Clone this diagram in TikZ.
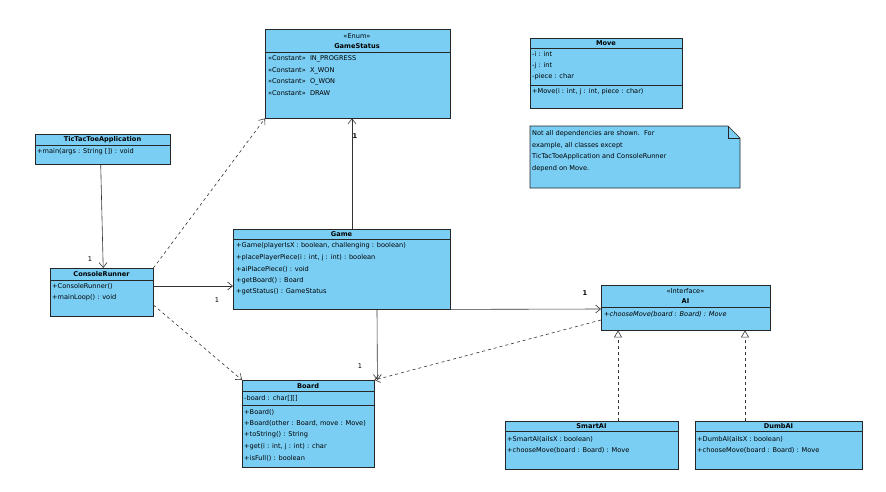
\documentclass[tikz,border=0pt]{standalone}
\usepackage{fontspec}
\setmainfont{DejaVu Sans}
\usetikzlibrary{arrows.meta,calc}
\definecolor{cfill}{RGB}{122,206,244}
\tikzset{
  x=1pt,y=-1pt,
  txt/.style={anchor=west,inner sep=0pt,font=\fontsize{6.6}{8}\selectfont},
  ttl/.style={inner sep=0pt,font=\fontsize{6.6}{8}\selectfont\bfseries},
  box/.style={draw=black!85,fill=cfill,line width=0.7pt},
  assoc/.style={draw=black!80,line width=0.6pt,-{Straight Barb[length=5pt,width=8pt]}},
  dep/.style={assoc,dashed},
  real/.style={draw=black!80,line width=0.6pt,dashed,-{Triangle[open,length=7pt,width=8pt]}},
  mult/.style={inner sep=0pt,font=\fontsize{6.6}{8}\selectfont},
}
\newcommand{\ubox}[5]{\path[box] (#2,#3) rectangle (#4,#5);
  \node[inner sep=0pt,minimum width={#4-#2},minimum height={#5-#3},anchor=north west] (#1) at (#2,#3) {};}
\begin{document}
\begin{tikzpicture}
\useasboundingbox[fill=white] (0,0) rectangle (886,491);
% GameStatus
\ubox{gs}{265}{29}{450}{118}
\draw[black!85,line width=0.6pt] (265,52)--(450,52);
\node[mult] at (357,36) {<<Enum>>};
\node[ttl] at (357,46) {GameStatus};
\node[txt] at (268,59) {<<Constant>>\ \ IN\_PROGRESS};
\node[txt] at (268,70.5) {<<Constant>>\ \ X\_WON};
\node[txt] at (268,82) {<<Constant>>\ \ O\_WON};
\node[txt] at (268,93.5) {<<Constant>>\ \ DRAW};
% Move
\ubox{mv}{530}{38}{682}{108}
\draw[black!85,line width=0.6pt] (530,48)--(682,48) (530,85)--(682,85);
\node[ttl] at (606,43) {Move};
\node[txt] at (532,54) {-i : int};
\node[txt] at (532,65.5) {-j : int};
\node[txt] at (532,77) {-piece : char};
\node[txt] at (532,92) {+Move(i : int, j : int, piece : char)};
% Note
\path[box] (530,126) -- (728,126) -- (740,138) -- (740,188) -- (530,188) -- cycle;
\draw[black!85,line width=0.6pt] (728,126) -- (728,138) -- (740,138);
\node[inner sep=0pt] (note) at (635,157) {};
\node[txt] at (532,134) {Not all dependencies are shown.\ \ For};
\node[txt] at (532,145.5) {example, all classes except};
\node[txt] at (532,157) {TicTacToeApplication and ConsoleRunner};
\node[txt] at (532,168.5) {depend on Move.};
% TicTacToeApplication
\ubox{app}{35}{134}{170}{164}
\draw[black!85,line width=0.6pt] (35,145)--(170,145);
\node[ttl] at (102.5,139.5) {TicTacToeApplication};
\node[txt] at (37,151.5) {+main(args : String []) : void};
% ConsoleRunner
\ubox{cr}{50}{268}{153}{316}
\draw[black!85,line width=0.6pt] (50,280)--(153,280);
\node[ttl] at (101.5,274) {ConsoleRunner};
\node[txt] at (52,286.5) {+ConsoleRunner()};
\node[txt] at (52,298) {+mainLoop() : void};
% Game
\ubox{game}{233}{229}{450}{309}
\draw[black!85,line width=0.6pt] (233,239)--(450,239);
\node[ttl] at (341.5,234) {Game};
\node[txt] at (236,246) {+Game(playerIsX : boolean, challenging : boolean)};
\node[txt] at (236,257.5) {+placePlayerPiece(i : int, j : int) : boolean};
\node[txt] at (236,269) {+aiPlacePiece() : void};
\node[txt] at (236,280.5) {+getBoard() : Board};
\node[txt] at (236,292) {+getStatus() : GameStatus};
% AI
\ubox{ai}{601}{285}{770}{330}
\draw[black!85,line width=0.6pt] (601,307)--(770,307);
\node[mult] at (685.5,291) {<<Interface>>};
\node[ttl] at (685.5,301) {AI};
\node[txt,font=\fontsize{6.6}{8}\selectfont\itshape] at (604,314) {+chooseMove(board : Board) : Move};
% Board
\ubox{bd}{242}{380}{374}{467}
\draw[black!85,line width=0.6pt] (242,391)--(374,391) (242,405)--(374,405);
\node[ttl] at (308,386) {Board};
\node[txt] at (244,398) {-board : char[][]};
\node[txt] at (244,412) {+Board()};
\node[txt] at (244,423.5) {+Board(other : Board, move : Move)};
\node[txt] at (244,435) {+toString() : String};
\node[txt] at (244,446.5) {+get(i : int, j : int) : char};
\node[txt] at (244,458) {+isFull() : boolean};
% SmartAI
\ubox{sm}{505}{421}{678}{469}
\draw[black!85,line width=0.6pt] (505,431)--(678,431);
\node[ttl] at (591.5,426) {SmartAI};
\node[txt] at (507,439) {+SmartAI(aiIsX : boolean)};
\node[txt] at (507,450.5) {+chooseMove(board : Board) : Move};
% DumbAI
\ubox{du}{695}{421}{862}{469}
\draw[black!85,line width=0.6pt] (695,431)--(862,431);
\node[ttl] at (778.5,426) {DumbAI};
\node[txt] at (697,439) {+DumbAI(aiIsX : boolean)};
\node[txt] at (697,450.5) {+chooseMove(board : Board) : Move};
% connectors
\draw[assoc] (app.south) ++(-2,0) coordinate (a1) -- ($(cr.north)+(1.5,0)$);
\node[mult] at (90,259) {1};
\draw[dep] (cr.north east) -- (gs.south west);
\draw[assoc] ($(cr.north east)+(0,18)$) -- ($(game.north west)+(0,57)$);
\node[mult] at (217,300) {1};
\draw[dep] ($(cr.north east)+(0,37)$) -- (bd.north west);
\draw[assoc] ($(game.north west)+(119,0)$) -- ($(gs.south west)+(87,0)$);
\node[mult,font=\fontsize{6.6}{8}\selectfont\bfseries] at (355,136) {1};
\draw[assoc] ($(game.south west)+(144,0)$) -- ($(bd.north east)+(3,0)$);
\node[mult] at (360,366) {1};
\draw[assoc] (game.south east) -- ($(ai.north west)+(0,24)$);
\node[mult,font=\fontsize{6.6}{8}\selectfont\bfseries] at (585,293) {1};
\draw[dep] ($(ai.north west)+(0,35)$) -- (bd.north east);
\draw[real] ($(sm.north west)+(113,0)$) -- ($(ai.south west)+(17,0)$);
\draw[real] ($(du.north west)+(50,0)$) -- ($(ai.south west)+(144,0)$);
\end{tikzpicture}
\end{document}
